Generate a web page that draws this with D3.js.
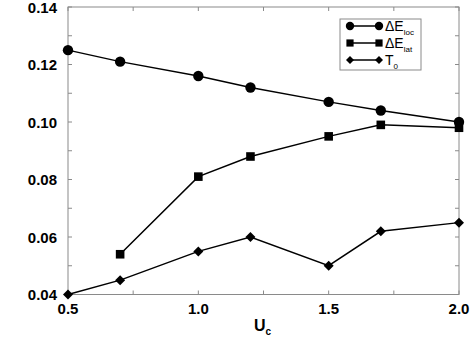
<!DOCTYPE html>
<html>
<head>
<meta charset="utf-8">
<script src="https://cdn.jsdelivr.net/npm/d3@7"></script>
<style>
html,body{margin:0;padding:0;background:#fff;}
svg{display:block;}
</style>
</head>
<body>
<svg id="chart" width="474" height="361"></svg>
<script>
const xTicks = [0.5, 1.0, 1.5, 2.0];
const yTicks = [0.04, 0.06, 0.08, 0.10, 0.12, 0.14];
const xLoc = [0.5, 0.7, 1.0, 1.2, 1.5, 1.7, 2.0];
const eLoc = [0.125, 0.121, 0.116, 0.112, 0.107, 0.104, 0.100];
const xLat = [0.7, 1.0, 1.2, 1.5, 1.7, 2.0];
const eLat = [0.054, 0.081, 0.088, 0.095, 0.099, 0.098];
const xT0 = [0.5, 0.7, 1.0, 1.2, 1.5, 1.7, 2.0];
const t0 = [0.040, 0.045, 0.055, 0.060, 0.050, 0.062, 0.065];

const svg = d3.select("#chart");
const L = 68, R = 459, T = 7, B = 294.5;
const x = d3.scaleLinear().domain([0.5, 2.0]).range([L, R]);
const y = d3.scaleLinear().domain([0.04, 0.14]).range([B, T]);
const frame = "#8a8a8a";

svg.append("rect").attr("x", L).attr("y", T).attr("width", R - L).attr("height", B - T)
  .attr("fill", "none").attr("stroke", frame).attr("stroke-width", 1);

const xMinor = d3.range(0.5, 2.0001, 0.25);
const yMinor = d3.range(0.04, 0.1401, 0.01);
const tl = 4;
const tickG = svg.append("g").attr("stroke", frame).attr("stroke-width", 1);
xMinor.forEach(v => {
  tickG.append("line").attr("x1", x(v)).attr("x2", x(v)).attr("y1", B).attr("y2", B - tl);
  tickG.append("line").attr("x1", x(v)).attr("x2", x(v)).attr("y1", T).attr("y2", T + tl);
});
yMinor.forEach(v => {
  tickG.append("line").attr("y1", y(v)).attr("y2", y(v)).attr("x1", L).attr("x2", L + tl);
  tickG.append("line").attr("y1", y(v)).attr("y2", y(v)).attr("x1", R).attr("x2", R - tl);
});

const font = "Liberation Sans, Arial, Helvetica, sans-serif";
svg.append("g").selectAll("text").data(xTicks).join("text")
  .attr("x", d => x(d)).attr("y", 314)
  .attr("text-anchor", "middle")
  .attr("font-family", font).attr("font-weight", "bold").attr("font-size", 15)
  .text(d => d3.format(".1f")(d));
svg.append("g").selectAll("text").data(yTicks).join("text")
  .attr("x", 57).attr("y", d => y(d) + 5.5)
  .attr("text-anchor", "end")
  .attr("font-family", font).attr("font-weight", "bold").attr("font-size", 15)
  .text(d => d3.format(".2f")(d));

const xt = svg.append("text").attr("x", 254).attr("y", 331)
  .attr("font-family", font).attr("font-weight", "bold").attr("font-size", 16);
xt.append("tspan").text("U");
xt.append("tspan").attr("dy", 4).attr("font-size", 10).text("c");

// marker generator: diamond = rotated square
function marker(kind, r) {
  if (kind === "circle") return d3.symbol().type(d3.symbolCircle).size(Math.PI * r * r)();
  if (kind === "square") return d3.symbol().type(d3.symbolSquare).size(4 * r * r)();
  return `M0,${-r}L${r},0L0,${r}L${-r},0Z`;
}

const line = d3.line().x(d => x(d[0])).y(d => y(d[1]));
const series = [
  {xs: xLoc, ys: eLoc, kind: "circle", r: 5.2},
  {xs: xLat, ys: eLat, kind: "square", r: 4.3},
  {xs: xT0, ys: t0, kind: "diamond", r: 5}
];
series.forEach(s => {
  const pts = s.xs.map((v, i) => [v, s.ys[i]]);
  svg.append("path").datum(pts).attr("d", line)
    .attr("fill", "none").attr("stroke", "#000").attr("stroke-width", 1.5);
  svg.append("g").selectAll("path").data(pts).join("path")
    .attr("transform", d => `translate(${x(d[0])},${y(d[1])})`)
    .attr("d", marker(s.kind, s.r))
    .attr("fill", "#000");
});

const lg = svg.append("g");
lg.append("rect").attr("x", 340).attr("y", 19).attr("width", 81).attr("height", 51)
  .attr("fill", "#fff").attr("stroke", frame).attr("stroke-width", 1);
const legendItems = [
  {main: "ΔE", sub: "loc", yy: 26, kind: "circle", r: 4.2},
  {main: "ΔE", sub: "lat", yy: 43, kind: "square", r: 3.6},
  {main: "T", sub: "0", yy: 60, kind: "diamond", r: 4}
];
legendItems.forEach(it => {
  lg.append("line").attr("x1", 350).attr("x2", 379).attr("y1", it.yy).attr("y2", it.yy)
    .attr("stroke", "#000").attr("stroke-width", 1.5);
  [350, 379].forEach(px => {
    lg.append("path").attr("transform", `translate(${px},${it.yy})`)
      .attr("d", marker(it.kind, it.r)).attr("fill", "#000");
  });
  const t = lg.append("text").attr("x", 385).attr("y", it.yy + 5)
    .attr("font-family", font).attr("font-size", 14);
  t.append("tspan").text(it.main);
  t.append("tspan").attr("dy", 4).attr("font-size", 8).text(it.sub);
});
</script>
</body>
</html>
